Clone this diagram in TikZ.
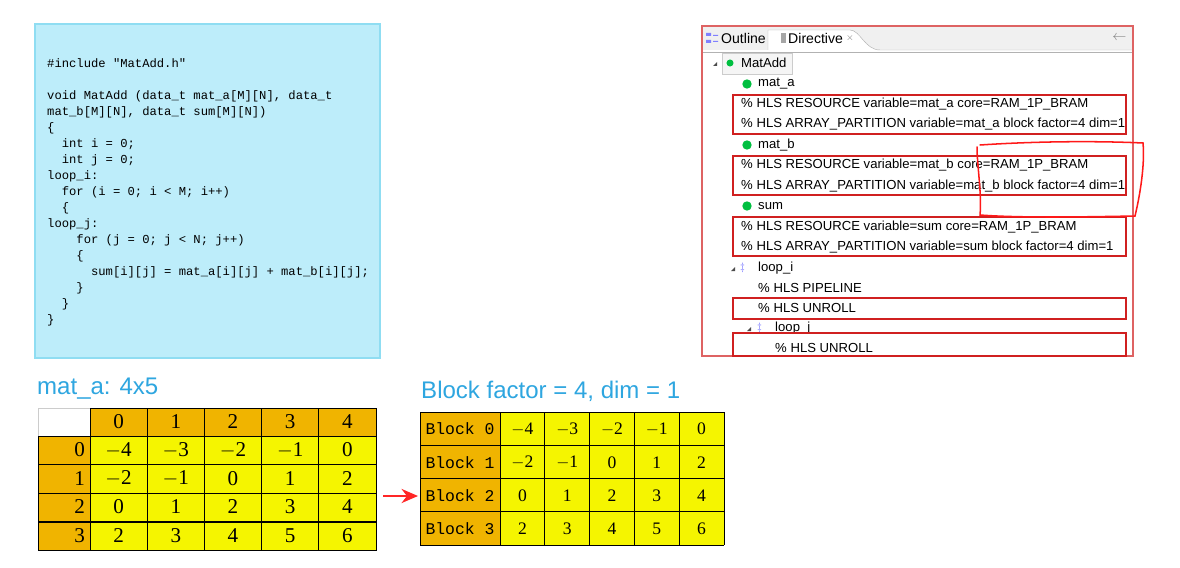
\documentclass[tikz,border=0pt]{standalone}
\usepackage{fontspec}
\usetikzlibrary{arrows.meta}
\setmainfont{Liberation Serif}
\setsansfont{Liberation Sans}
\setmonofont{Liberation Mono}
\definecolor{codebg}{HTML}{BDEDFA}
\definecolor{codeln}{HTML}{8FDDF2}
\definecolor{hdr}{HTML}{F0B400}
\definecolor{cell}{HTML}{F5F500}
\definecolor{ttl}{HTML}{2EA6E0}
\definecolor{rbox}{HTML}{D02020}
\begin{document}
\begin{tikzpicture}[x=0.03cm,y=-0.03cm,
  code/.style={anchor=north west,inner sep=0,font=\ttfamily\fontsize{10.4}{13.66}\selectfont,align=left},
  dir/.style={anchor=west,inner sep=0,font=\sffamily\fontsize{11.2}{12}\selectfont},
  redbox/.style={draw=rbox,line width=1.2pt},
  num/.style={font=\fontsize{18}{18}\selectfont},
  blk/.style={font=\ttfamily\fontsize{14}{14}\selectfont},
  ttlf/.style={anchor=south west,inner sep=0,text=ttl,font=\sffamily\fontsize{20.5}{20}\selectfont},
  bul/.style={circle,fill=green!50!teal,inner sep=0,minimum size=8pt}]
\useasboundingbox (0,0) rectangle (1180,568);
\fill[white] (0,0) rectangle (1180,568);
% code box
\draw[codeln,fill=codebg,line width=1.5pt] (35,24) rectangle (380,358);
\node[code] (codetxt) at (47,58) {\#include "MatAdd.h"\\[13.66pt]
void MatAdd (data\_t mat\_a[M][N], data\_t\\
mat\_b[M][N], data\_t sum[M][N])\\
\{\\
\ \ int i = 0;\\
\ \ int j = 0;\\
loop\_i:\\
\ \ for (i = 0; i < M; i++)\\
\ \ \{\\
loop\_j:\\
\ \ \ \ for (j = 0; j < N; j++)\\
\ \ \ \ \{\\
\ \ \ \ \ \ sum[i][j] = mat\_a[i][j] + mat\_b[i][j];\\
\ \ \ \ \}\\
\ \ \}\\
\}};
% directive panel
\draw[rbox!70,line width=1pt,fill=white] (702,26) rectangle (1133,356);
\fill[gray!12] (703,27) rectangle (1132,50);
\draw[gray!60,fill=white] (768,50) -- (768,30) -- (850,30) .. controls (860,30) and (865,50) .. (880,50) -- (1132,50);
\draw[gray!60] (703,52) -- (1132,52);
\node[dir,font=\sffamily\fontsize{12}{12}\selectfont] (tout) at (721,38) {Outline};
\node[dir,font=\sffamily\fontsize{12}{12}\selectfont] (tdir) at (788,38) {Directive};
\node[dir,text=gray] (tx) at (846,38) {\fontsize{8}{8}\selectfont$\times$};
\node[dir,text=gray,font=\sffamily\large] (tarr) at (1112,38) {$\leftarrow$};
\fill[blue!50] (706,33) rectangle (711,36) (706,40) rectangle (711,43) (713,35) rectangle (718,36) (713,41) rectangle (718,42);
\fill[gray!70] (781,33) rectangle (786,43);
\draw[gray!40,fill=gray!8] (722,53) rectangle (792,74);
\fill[black!70] (713,66) -- (717,66) -- (717,62) -- cycle;
\node[bul,minimum size=6pt] (b0) at (730,63) {};
\node[dir] (l0) at (741,63) {MatAdd};
\node[bul] (b1) at (747,84) {}; \node[dir] (l1) at (758,84) {mat\_a};
\node[dir] (l2) at (741,104) {\% HLS RESOURCE variable=mat\_a core=RAM\_1P\_BRAM};
\node[dir] (l3) at (741,124) {\% HLS ARRAY\_PARTITION variable=mat\_a block factor=4 dim=1};
\node[bul] (b2) at (747,145) {}; \node[dir] (l4) at (758,145) {mat\_b};
\node[dir] (l5) at (741,165) {\% HLS RESOURCE variable=mat\_b core=RAM\_1P\_BRAM};
\node[dir] (l6) at (741,186) {\% HLS ARRAY\_PARTITION variable=mat\_b block factor=4 dim=1};
\node[bul] (b3) at (747,206) {}; \node[dir] (l7) at (758,206) {sum};
\node[dir] (l8) at (741,227) {\% HLS RESOURCE variable=sum core=RAM\_1P\_BRAM};
\node[dir] (l9) at (741,247) {\% HLS ARRAY\_PARTITION variable=sum block factor=4 dim=1};
\fill[black!70] (731,271) -- (735,271) -- (735,267) -- cycle;
\node[dir,text=blue!60,font=\sffamily\small] (i1) at (740,268) {$\ddagger$};
\node[dir] (l10) at (758,268) {loop\_i};
\node[dir] (l11) at (758,288) {\% HLS PIPELINE};
\node[dir] (l12) at (758,308) {\% HLS UNROLL};
\fill[black!70] (747,331) -- (751,331) -- (751,327) -- cycle;
\node[dir,text=blue!60,font=\sffamily\small] (i2) at (757,328) {$\ddagger$};
\node[dir] (l13) at (775,328) {loop\_j};
\node[dir] (l14) at (775,348) {\% HLS UNROLL};
\draw[redbox] (733,95) rectangle (1126,134);
\draw[redbox] (733,156) rectangle (1126,195);
\draw[redbox] (733,217) rectangle (1126,256);
\draw[redbox] (733,298) rectangle (1126,319);
\draw[redbox] (733,333) rectangle (1126,356);
\draw[red!90,line width=1.3pt,line cap=round] (980,145) .. controls (1040,141) and (1100,141) .. (1143,143)
  .. controls (1145,165) and (1140,195) .. (1135,216)
  .. controls (1080,217) and (1020,218) .. (980,215)
  .. controls (982,195) and (977,165) .. (977,147);
% table 1
\node[ttlf] (t1) at (37,400) {mat\_a: 4x5};
\foreach \c in {0,...,4} {
  \fill[hdr] ({90+57.2*\c},408) rectangle ({90+57.2*(\c+1)},436);
  \node[num] (h\c) at ({118.6+57.2*\c},422) {\c};}
\foreach \r in {0,...,3} {
  \fill[hdr] (38,{436+28.5*\r}) rectangle (90,{436+28.5*(\r+1)});
  \fill[cell] (90,{436+28.5*\r}) rectangle (376,{436+28.5*(\r+1)});
  \node[num,anchor=east] (r\r) at (89,{450+28.5*\r}) {\r};}
\foreach \r/\vals in {0/{$-$4,$-$3,$-$2,$-$1,0},1/{$-$2,$-$1,0,1,2},2/{0,1,2,3,4},3/{2,3,4,5,6}} {
  \foreach \v [count=\c from 0] in \vals
    \node[num] (m\r\c) at ({118.6+57.2*\c},{450+28.5*\r}) {\v};}
\draw[black,line width=0.6pt] (90,408) -- (376,408) (38,436) -- (376,436);
\foreach \r in {1,2,3} \draw[black,line width=0.6pt] (38,{436+28.5*\r}) -- (376,{436+28.5*\r});
\draw[black,line width=1.2pt] (38,522) -- (376,522);
\draw[black,line width=0.6pt] (38,436) -- (38,550) -- (376,550) -- (376,408);
\foreach \c in {0,...,4} \draw[black,line width=0.6pt] ({90+57.2*\c},408) -- ({90+57.2*\c},550);
\draw[gray!40] (38,408) -- (90,408) (38,408) -- (38,436);
% arrow
\coordinate (as) at (383,496);
\draw[-{Stealth[length=14pt,width=12pt]},red!85,line width=2pt] (as) -- (418,496);
% table 2
\node[ttlf] (t2) at (421,402) {Block factor = 4, dim = 1};
\foreach \r/\vals in {0/{$-$4,$-$3,$-$2,$-$1,0},1/{$-$2,$-$1,0,1,2},2/{0,1,2,3,4},3/{2,3,4,5,6}} {
  \fill[hdr] (420,{412+33.25*\r}) rectangle (500,{412+33.25*(\r+1)});
  \fill[cell] (500,{412+33.25*\r}) rectangle (724,{412+33.25*(\r+1)});
  \node[blk] (bl\r) at (460,{429+33.25*\r}) {Block \r};
  \foreach \v [count=\c from 0] in \vals
    \node[num,font=\fontsize{15}{15}\selectfont] (n\r\c) at ({522.4+44.8*\c},{429+33.25*\r}) {\v};}
\foreach \r in {0,...,4} \draw[black,line width=0.6pt] (420,{412+33.25*\r}) -- (724,{412+33.25*\r});
\draw[black,line width=0.6pt] (420,412) -- (420,545);
\foreach \c in {0,...,5} \draw[black,line width=0.6pt] ({500+44.8*\c},412) -- ({500+44.8*\c},545);
\end{tikzpicture}
\end{document}
